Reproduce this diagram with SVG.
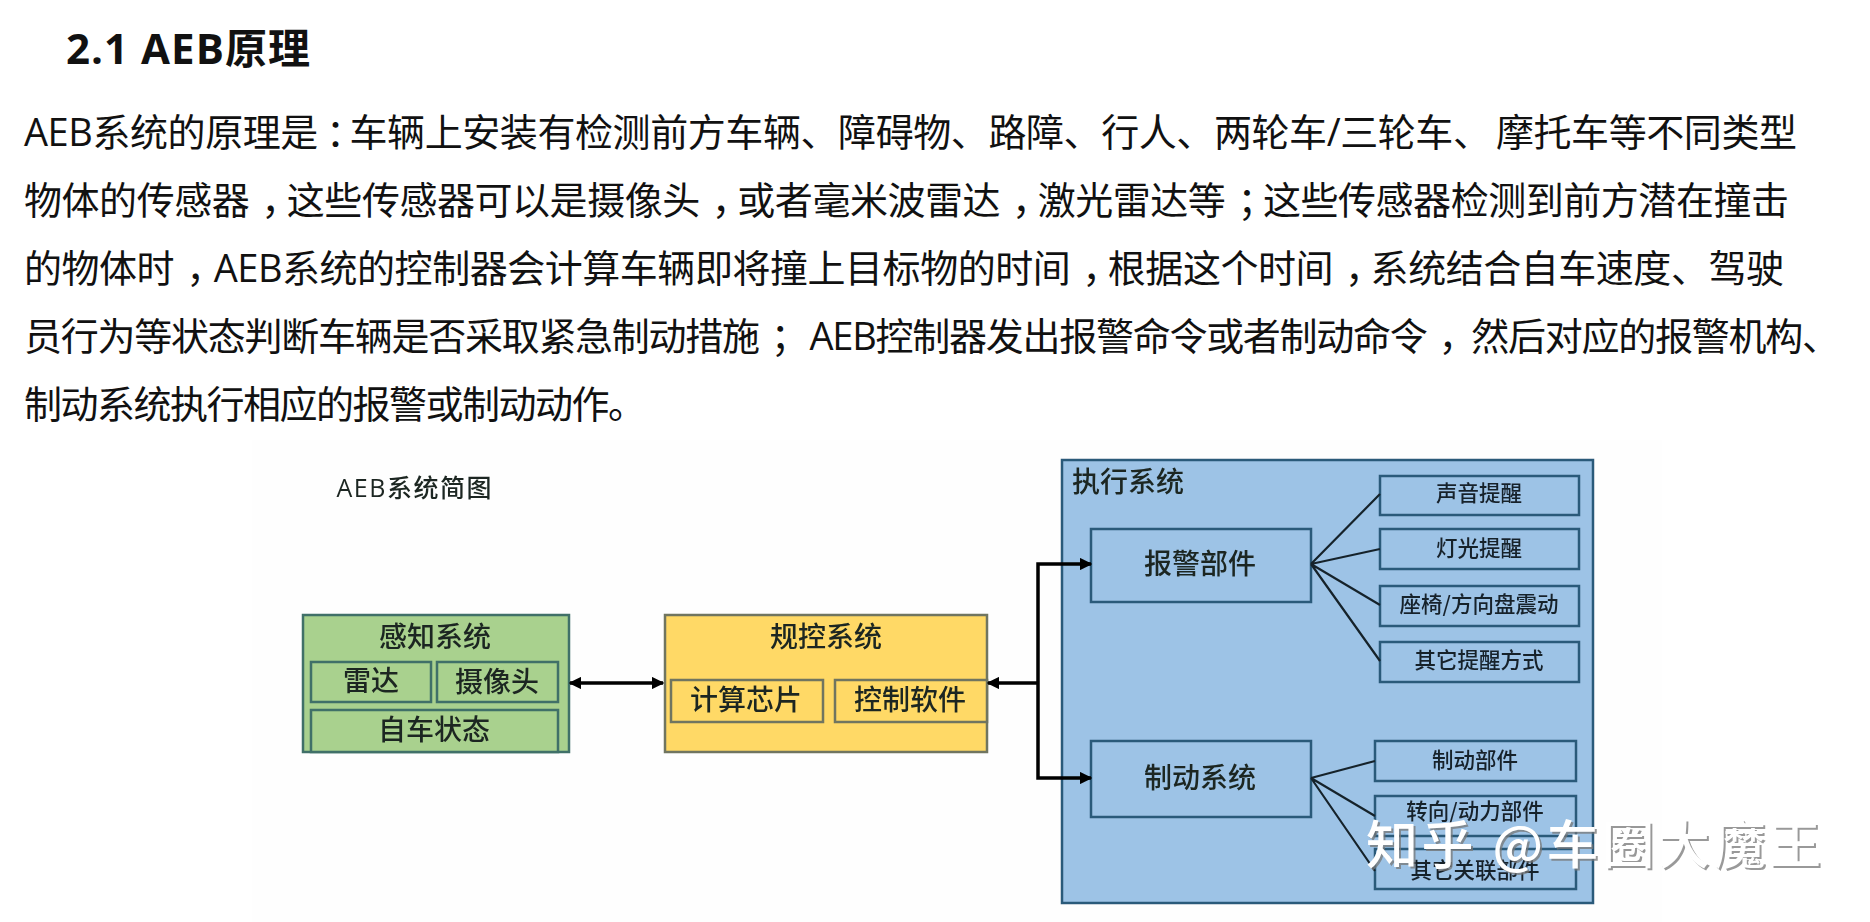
<svg xmlns="http://www.w3.org/2000/svg" width="1870" height="922" viewBox="0 0 1870 922">
<style>
.h{font-family:"Open Sans","Noto Sans CJK SC",sans-serif;font-weight:700;font-size:42px;fill:#111}
.b{font-family:"Open Sans","Noto Sans CJK SC",sans-serif;font-size:38px;fill:#111}
.t{font-family:"Noto Sans CJK SC",sans-serif;fill:#1c2620;text-anchor:middle;dominant-baseline:central;font-size:28px;font-weight:500}
.s{font-size:21.5px;fill:#18222c}
.box{stroke-width:2.5}
.g{fill:#a9d18e;stroke:#3f7068}
.y{fill:#ffd966;stroke:#6f7460}
.bl{fill:#9dc3e6;stroke:#2c5a7a}
.c{fill:none;stroke:#16242c;stroke-width:2.2}
.k{fill:none;stroke:#000;stroke-width:3.5}
.w{font-family:"Noto Sans CJK SC",sans-serif;font-size:52px;font-weight:500}
</style>
<defs>
<marker id="a" viewBox="0 0 10 10" refX="9" refY="5" markerWidth="3.6" markerHeight="3.6" orient="auto-start-reverse"><path d="M0 0L10 5L0 10z" fill="#000"/></marker>
<filter id="soft" x="-2%" y="-2%" width="104%" height="104%"><feGaussianBlur stdDeviation="0.7"/></filter>
</defs>
<rect width="1870" height="922" fill="#fff"/>
<g id="heading"><text class="h" x="66" y="64" textLength="244" lengthAdjust="spacing">2.1 AEB原理</text></g>
<g id="body">
<text class="b" x="24" y="146" textLength="1773" lengthAdjust="spacing">AEB系统的原理是<tspan dx="8">：</tspan><tspan dx="-14">车</tspan>辆上安装有检测前方车辆、障碍物、路障、行人、两轮车/三轮车、<tspan dx="-4"> 摩</tspan>托车等不同类型</text>
<text class="b" x="24" y="214" textLength="1765" lengthAdjust="spacing">物体的传感器<tspan dx="12">，</tspan><tspan dx="-12">这</tspan>些传感器可以是摄像头<tspan dx="12">，</tspan><tspan dx="-12">或</tspan>者毫米波雷达<tspan dx="12">，</tspan><tspan dx="-12">激</tspan>光雷达等<tspan dx="12">；</tspan><tspan dx="-12">这</tspan>些传感器检测到前方潜在撞击</text>
<text class="b" x="24" y="282" textLength="1760" lengthAdjust="spacing">的物体时<tspan dx="12">，</tspan><tspan dx="-10">A</tspan>EB系统的控制器会计算车辆即将撞上目标物的时间<tspan dx="12">，</tspan><tspan dx="-12">根</tspan>据这个时间<tspan dx="12">，</tspan><tspan dx="-12">系</tspan>统结合自车速度、驾驶</text>
<text class="b" x="24" y="350" textLength="1816" lengthAdjust="spacing">员行为等状态判断车辆是否采取紧急制动措施<tspan dx="12">；</tspan><tspan dx="2">A</tspan>EB控制器发出报警命令或者制动命令<tspan dx="12">，</tspan><tspan dx="-4">然</tspan>后对应的报警机构、</text>
<text class="b" x="24" y="418" textLength="622" lengthAdjust="spacing">制动系统执行相应的报警或制动动作。</text>
</g>
<rect x="252" y="440" width="1410" height="482" fill="#fefefe"/>
<g filter="url(#soft)">
<text class="t" x="414" y="486.5" textLength="155" lengthAdjust="spacing" style="font-size:25px;font-family:'Open Sans','Noto Sans CJK SC',sans-serif">AEB系统简图</text>
<g id="perception">
<rect class="g box" x="303" y="615" width="266" height="137"/>
<text class="t" x="435" y="635">感知系统</text>
<rect class="g box" x="311" y="662" width="120" height="40"/><text class="t" x="371" y="679">雷达</text>
<rect class="g box" x="437" y="662" width="121" height="40"/><text class="t" x="497" y="679.5">摄像头</text>
<rect class="g box" x="311" y="710" width="247" height="42"/><text class="t" x="434" y="728">自车状态</text>
</g>
<g id="planning">
<rect class="y box" x="665" y="615" width="322" height="137"/>
<text class="t" x="826" y="635">规控系统</text>
<rect class="y box" x="671" y="680" width="152" height="42"/><text class="t" x="746" y="698">计算芯片</text>
<rect class="y box" x="835" y="680" width="152" height="42"/><text class="t" x="910" y="698">控制软件</text>
</g>
<g id="execution">
<rect class="bl box" x="1062" y="460" width="531" height="443"/>
<text class="t" x="1128" y="480">执行系统</text>
</g>
<g id="alarm"><rect class="bl box" x="1091" y="529" width="220" height="73"/><text class="t" x="1200" y="562">报警部件</text></g>
<g id="brake"><rect class="bl box" x="1091" y="741" width="220" height="76"/><text class="t" x="1200" y="775.5">制动系统</text></g>
<g id="a1"><rect class="bl box" x="1380" y="476" width="199" height="39"/><text class="t s" x="1479" y="491.5">声音提醒</text></g>
<g id="a2"><rect class="bl box" x="1380" y="529" width="199" height="40"/><text class="t s" x="1479" y="546.5">灯光提醒</text></g>
<g id="a3"><rect class="bl box" x="1380" y="586" width="199" height="40"/><text class="t s" x="1479" y="602">座椅/方向盘震动</text></g>
<g id="a4"><rect class="bl box" x="1380" y="642" width="199" height="40"/><text class="t s" x="1479" y="658">其它提醒方式</text></g>
<g id="b1"><rect class="bl box" x="1375" y="741" width="201" height="40"/><text class="t s" x="1475" y="758">制动部件</text></g>
<g id="b2"><rect class="bl box" x="1375" y="796" width="201" height="40"/><text class="t s" x="1475" y="809">转向/动力部件</text></g>
<g id="b3"><rect class="bl box" x="1375" y="849" width="201" height="40"/><text class="t s" x="1475" y="868">其它关联部件</text></g>
<g id="connectors">
<path class="k" d="M570 683H663" marker-start="url(#a)" marker-end="url(#a)"/>
<path class="k" d="M1038 683H988" marker-end="url(#a)"/>
<path class="k" d="M1091 564H1038V778H1091" marker-start="url(#a)" marker-end="url(#a)"/>
<path class="c" d="M1311 564L1380 494M1311 564L1380 549M1311 564L1380 605M1311 564L1380 661M1311 778L1375 761M1311 778L1375 816M1311 778L1375 871"/>
</g>
</g>
<g id="watermark">
<text class="w" x="1368" y="866" fill="#777" opacity=".75" textLength="455" lengthAdjust="spacing">知乎 @车圈大魔王</text>
<text class="w" x="1366" y="864" fill="#fff" textLength="455" lengthAdjust="spacing">知乎 @车圈大魔王</text>
</g>
</svg>
